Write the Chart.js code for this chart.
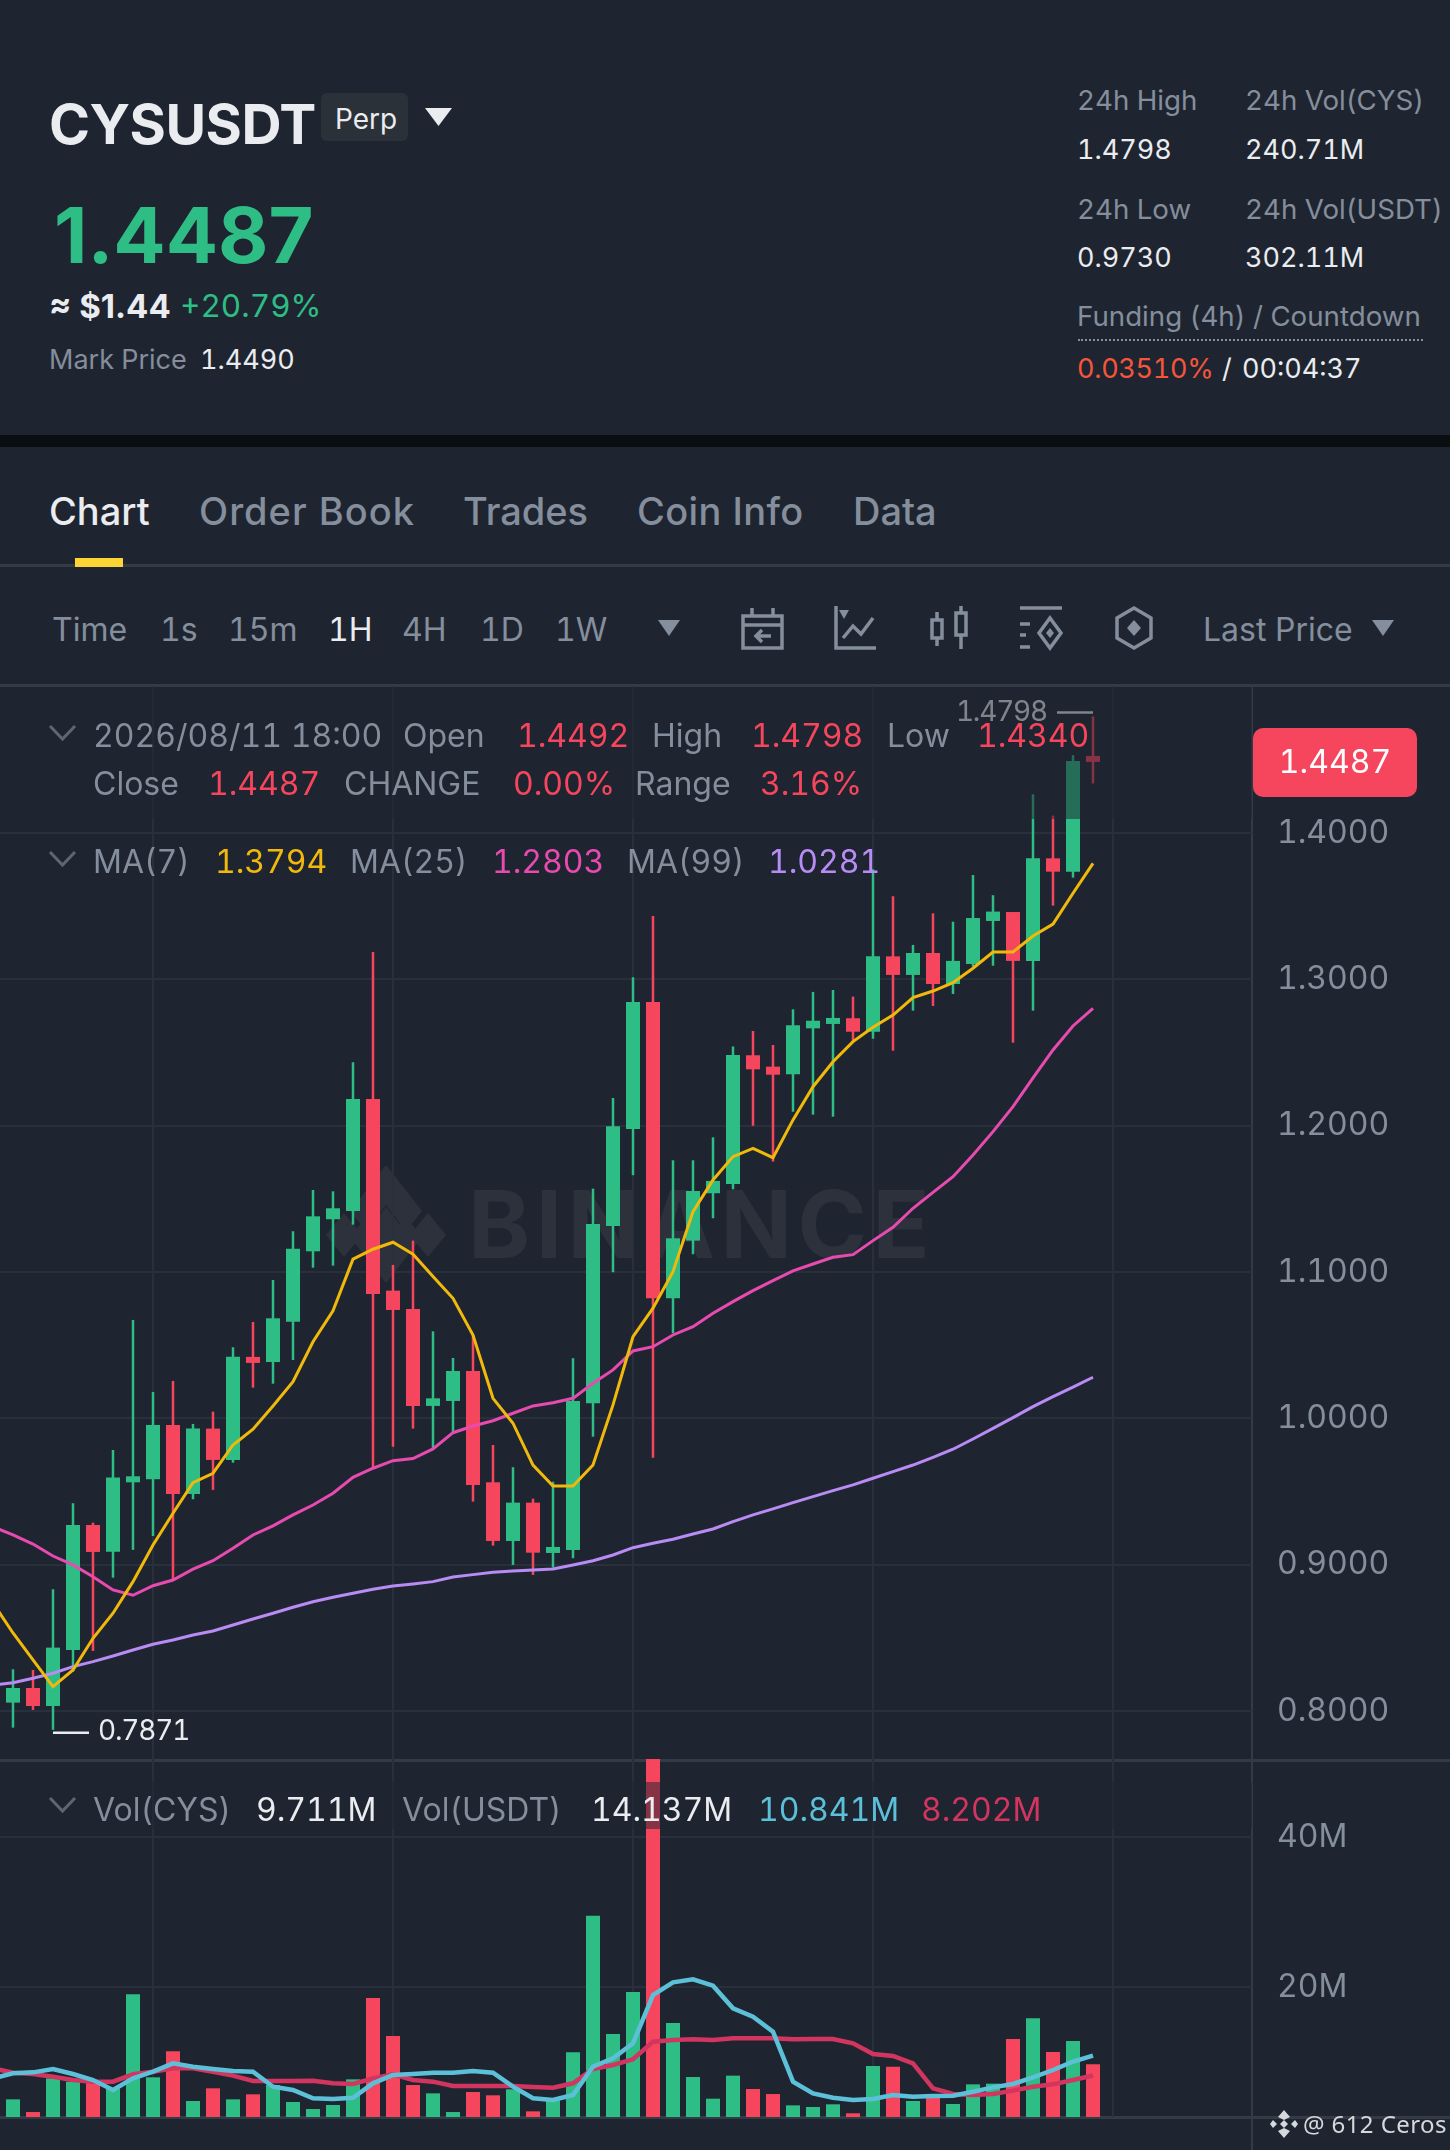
<!DOCTYPE html>
<html>
<head>
<meta charset="utf-8">
<title>CYSUSDT</title>
<script src="https://cdn.jsdelivr.net/npm/chart.js@4/dist/chart.umd.min.js"></script>
<style>
    html, body { margin: 0; padding: 0; background: #1f2530; }
    body { position: relative; width: 1450px; height: 2150px; overflow: hidden; font-family: Inter, sans-serif; font-variant-numeric: tabular-nums; color: #848e9c; }
    .t { position: absolute; white-space: nowrap; line-height: 1; transform: translateY(-50%); }
    .box { position: absolute; }
    .white { color: #eaecef; }
    .green { color: #2ebd85; }
    .red { color: #f6465d; }
    .hdr { font-size: 27.7px; }
    .hdr.white { font-size: 27px; }
    .tab { font-size: 38px; font-weight: 500; }
    .tool { font-size: 32px; }
    .leg { font-size: 32px; }
    svg { position: absolute; overflow: visible; }
    canvas { position: absolute; left: 0; }
</style>
</head>
<body>

<!-- header -->
<div class="t white" style="left:49px;top:124px;font-size:55.5px;font-weight:700;letter-spacing:-.5px">CYSUSDT</div>
<div class="box" style="left:321px;top:93px;width:87px;height:48px;background:#2b3139;border-radius:6px"></div>
<div class="t white" style="left:335px;top:119px;font-size:28px">Perp</div>
<svg style="left:425px;top:108px" width="28" height="18"><path d="M0 0H27L13.5 18Z" fill="#eaecef"/></svg>
<div class="t green" style="left:54px;top:236px;font-size:77.5px;font-weight:700;font-variant-numeric:normal">1.4487</div>
<div class="t white" style="left:49px;top:306px;font-size:33px;font-weight:700;font-variant-numeric:normal">≈ $1.44</div>
<div class="t green" style="left:180px;top:306px;font-size:31.5px">+20.79%</div>
<div class="t hdr" style="left:49px;top:359px;font-size:27px">Mark Price</div>
<div class="t hdr white" style="left:200px;top:359px">1.4490</div>

<div class="t hdr" style="left:1077px;top:101px">24h High</div>
<div class="t hdr" style="left:1245px;top:101px">24h Vol(CYS)</div>
<div class="t hdr white" style="left:1077px;top:149px">1.4798</div>
<div class="t hdr white" style="left:1245px;top:149px">240.71M</div>
<div class="t hdr" style="left:1077px;top:210px">24h Low</div>
<div class="t hdr" style="left:1245px;top:210px">24h Vol(USDT)</div>
<div class="t hdr white" style="left:1077px;top:257px">0.9730</div>
<div class="t hdr white" style="left:1245px;top:257px">302.11M</div>
<div class="t hdr" style="left:1077px;top:317px">Funding (4h) / Countdown</div>
<div class="box" style="left:1078px;top:339px;width:345px;border-top:2px dotted #848e9c"></div>
<div class="t hdr" style="left:1077px;top:368px;font-size:27px;letter-spacing:-.3px;color:#f6553c">0.03510%</div>
<div class="t hdr white" style="left:1222px;top:368px">/</div>
<div class="t hdr white" style="left:1242px;top:368px">00:04:37</div>

<div class="box" style="left:0;top:435px;width:1450px;height:12px;background:#0b0e11"></div>

<!-- tabs -->
<div class="t tab white" style="left:49px;top:511px">Chart</div>
<div class="t tab" style="left:199px;top:511px;letter-spacing:1px">Order Book</div>
<div class="t tab" style="left:463px;top:511px">Trades</div>
<div class="t tab" style="left:637px;top:511px;letter-spacing:.4px">Coin Info</div>
<div class="t tab" style="left:853px;top:511px">Data</div>
<div class="box" style="left:0;top:564px;width:1450px;height:3px;background:#333b47"></div>
<div class="box" style="left:75px;top:558px;width:48px;height:9px;background:#fcd535"></div>

<!-- toolbar -->
<div class="t tool" style="left:52px;top:630px">Time</div>
<div class="t tool" style="left:160px;top:630px">1s</div>
<div class="t tool" style="left:228px;top:630px">15m</div>
<div class="t tool white" style="left:328px;top:630px">1H</div>
<div class="t tool" style="left:402px;top:630px">4H</div>
<div class="t tool" style="left:480px;top:630px">1D</div>
<div class="t tool" style="left:555px;top:630px">1W</div>
<svg style="left:658px;top:620px" width="22" height="16"><path d="M0 0H22L11 16Z" fill="#848e9c"/></svg>
<svg style="left:741px;top:606px" width="44" height="44" fill="none" stroke="#848e9c" stroke-width="3.5">
    <path d="M2 10H41V42H2ZM2 19H41M11 2V10M32 2V10M30 30H15M21 24L15 30L21 36"/>
</svg>
<svg style="left:834px;top:606px" width="44" height="44" fill="none" stroke="#848e9c" stroke-width="3.5">
    <path d="M2 0V42H42M9 32L19 20L27 28L39 12"/><path d="M5 4H15L10 13Z" fill="#848e9c" stroke="none"/>
</svg>
<svg style="left:930px;top:606px" width="40" height="44" fill="none" stroke="#848e9c" stroke-width="3.5">
    <path d="M2 14H12V32H2ZM26 7H36V29H26ZM7 6V14M7 32V40M31 0V7M31 29V43"/>
</svg>
<svg style="left:1020px;top:606px" width="44" height="44" fill="none" stroke="#848e9c" stroke-width="3.5">
    <path d="M0 2H42M0 18H10M0 29H6M0 41H10M30 12L41 27L30 42L19 27Z"/><path d="M30 22L34 27L30 32L26 27Z" fill="#848e9c" stroke="none"/>
</svg>
<svg style="left:1115px;top:606px" width="40" height="44" fill="none" stroke="#848e9c" stroke-width="3.5">
    <path d="M19 2L36 12V32L19 42L2 32V12Z"/><path d="M19 14L26 22L19 30L12 22Z" fill="#848e9c" stroke="none"/>
</svg>
<div class="t tool" style="left:1203px;top:630px">Last Price</div>
<svg style="left:1372px;top:620px" width="22" height="16"><path d="M0 0H22L11 16Z" fill="#848e9c"/></svg>

<!-- watermark under the chart -->
<svg style="left:326px;top:1165px" width="120" height="118" fill="#2c313c">
    <path d="M60 0L96 46L80 66L60 40L40 66L24 46Z"/>
    <path d="M60 42L76 62L60 84L44 62Z"/>
    <path d="M18 48L36 70L18 92L0 70Z"/>
    <path d="M102 48L120 70L102 92L84 70Z"/>
    <path d="M60 118L24 72L40 52L60 78L80 52L96 72Z"/>
</svg>
<div class="t" style="left:468px;top:1224px;font-size:94px;font-weight:700;color:#2c313c;letter-spacing:5.5px">BINANCE</div>

<!-- pane lines -->
<div class="box" style="left:0;top:684px;width:1450px;height:3px;background:#333b47"></div>
<div class="box" style="left:0;top:1759px;width:1450px;height:3px;background:#333b47"></div>
<div class="box" style="left:0;top:2116px;width:1450px;height:3px;background:#333b47"></div>
<div class="box" style="left:1251px;top:686px;width:2px;height:1464px;background:#333b47"></div>

<canvas id="volChart" width="1450" height="360" style="top:1757px"></canvas>
<canvas id="priceChart" width="1450" height="1075" style="top:686px"></canvas>

<!-- legend strips dim what is behind them -->
<div class="box" style="left:0;top:687px;width:1252px;height:132px;background:rgba(31,37,48,.52)"></div>
<div class="box" style="left:0;top:1782px;width:1252px;height:47px;background:rgba(31,37,48,.52)"></div>

<svg style="left:49px;top:725px" width="28" height="15" fill="none" stroke="#5e6673" stroke-width="3"><path d="M1 1L13.5 14L26 1"/></svg>
<div class="t leg" style="left:93px;top:735.5px">2026/08/11 18:00</div>
<div class="t leg" style="left:403px;top:735.5px">Open</div>
<div class="t leg red" style="left:517px;top:735.5px">1.4492</div>
<div class="t leg" style="left:652px;top:735.5px">High</div>
<div class="t leg red" style="left:751px;top:735.5px">1.4798</div>
<div class="t leg" style="left:887px;top:735.5px">Low</div>
<div class="t leg red" style="left:977px;top:735.5px">1.4340</div>
<div class="t leg" style="left:93px;top:783.5px">Close</div>
<div class="t leg red" style="left:208px;top:783.5px">1.4487</div>
<div class="t leg" style="left:344px;top:783.5px">CHANGE</div>
<div class="t leg red" style="left:513px;top:783.5px">0.00%</div>
<div class="t leg" style="left:635px;top:783.5px">Range</div>
<div class="t leg red" style="left:760px;top:783.5px">3.16%</div>

<svg style="left:49px;top:851px" width="28" height="15" fill="none" stroke="#5e6673" stroke-width="3"><path d="M1 1L13.5 14L26 1"/></svg>
<div class="t leg" style="left:93px;top:861.5px">MA(7)</div>
<div class="t leg" style="left:215px;top:861.5px;color:#f0b90b">1.3794</div>
<div class="t leg" style="left:350px;top:861.5px">MA(25)</div>
<div class="t leg" style="left:492px;top:861.5px;color:#e84bb0">1.2803</div>
<div class="t leg" style="left:627px;top:861.5px">MA(99)</div>
<div class="t leg" style="left:768px;top:861.5px;color:#b88bf5">1.0281</div>

<svg style="left:49px;top:1797px" width="28" height="15" fill="none" stroke="#5e6673" stroke-width="3"><path d="M1 1L13.5 14L26 1"/></svg>
<div class="t leg" style="left:93px;top:1809.5px">Vol(CYS)</div>
<div class="t leg white" style="left:256px;top:1809.5px">9.711M</div>
<div class="t leg" style="left:402px;top:1809.5px">Vol(USDT)</div>
<div class="t leg white" style="left:591px;top:1809.5px">14.137M</div>
<div class="t leg" style="left:758px;top:1809.5px;color:#5cc0d8">10.841M</div>
<div class="t leg" style="left:921px;top:1809.5px;color:#d2355f">8.202M</div>

<!-- last price tag -->
<div class="box" style="left:1253px;top:728px;width:164px;height:69px;background:#f6465d;border-radius:10px"></div>
<div class="t" style="left:1253px;width:164px;top:762px;text-align:center;font-size:32px;color:#fff">1.4487</div>

<!-- credit -->
<svg style="left:1270px;top:2110px" width="28" height="28" fill="#d5d8dc">
    <path d="M14 0L20 7L14 10L8 7ZM14 10L18 14L14 18L10 14ZM3 10L7 14L3 18L0 14ZM25 10L28 14L25 18L21 14ZM14 28L8 21L14 18L20 21Z"/>
</svg>
<div class="t" style="left:1303px;top:2124px;font-size:24px;color:#d5d8dc;letter-spacing:.4px;font-family:'Noto Sans',sans-serif">@ 612 Ceros</div>

<script>
// one hourly candle per entry, oldest first
const opens = [0.8057, 0.8157, 0.8034, 0.8417, 0.9271, 0.9089, 0.9563, 0.9584, 0.9955, 0.9483, 0.9930, 0.9716, 1.0418, 1.0385, 1.0661, 1.1142, 1.1361, 1.1418, 1.2183, 1.0873, 1.0748, 1.0085, 1.0119, 1.0324, 0.9563, 0.9162, 0.9424, 0.9080, 0.9100, 1.0103, 1.1315, 1.1978, 1.2846, 1.0821, 1.1215, 1.1539, 1.1602, 1.2482, 1.2404, 1.2352, 1.2666, 1.2696, 1.2735, 1.2643, 1.3158, 1.3031, 1.3181, 1.2969, 1.3106, 1.3400, 1.3461, 1.3127, 1.3828, 1.3737, 1.4492];
const closes = [0.8157, 0.8034, 0.8433, 0.9271, 0.9087, 0.9595, 0.9604, 0.9955, 0.9483, 0.9930, 0.9716, 1.0422, 1.0379, 1.0684, 1.1160, 1.1381, 1.1436, 1.2183, 1.0850, 1.0741, 1.0085, 1.0137, 1.0324, 0.9545, 0.9162, 0.9424, 0.9082, 0.9121, 1.0119, 1.1329, 1.1996, 1.2846, 1.0821, 1.1231, 1.1554, 1.1623, 1.2484, 1.2386, 1.2349, 1.2687, 1.2718, 1.2735, 1.2643, 1.3158, 1.3031, 1.3181, 1.2969, 1.3127, 1.3420, 1.3464, 1.3127, 1.3828, 1.3737, 1.4494, 1.4487];
const highs = [0.8285, 0.8280, 0.8832, 0.9420, 0.9287, 0.9784, 1.0673, 1.0180, 1.0256, 0.9962, 1.0046, 1.0486, 1.0659, 1.0946, 1.1279, 1.1561, 1.1552, 1.2434, 1.3188, 1.1049, 1.1215, 1.0595, 1.0413, 1.0570, 0.9818, 0.9666, 0.9451, 0.9567, 1.0411, 1.1570, 1.2190, 1.3015, 1.3434, 1.1764, 1.1764, 1.1921, 1.2542, 1.2648, 1.2552, 1.2796, 1.2915, 1.2928, 1.2883, 1.3753, 1.3569, 1.3236, 1.3452, 1.3395, 1.3714, 1.3576, 1.3461, 1.4266, 1.4120, 1.4533, 1.4798];
const lows = [0.7886, 0.8007, 0.7871, 0.8269, 0.8410, 0.8911, 0.9101, 0.9196, 0.8895, 0.9447, 0.9511, 0.9697, 1.0210, 1.0237, 1.0399, 1.1030, 1.1044, 1.1324, 0.9661, 0.9806, 0.9930, 0.9796, 0.9898, 0.9431, 0.9130, 0.8998, 0.8930, 0.8980, 0.9044, 0.9875, 1.0999, 1.1662, 0.9730, 1.0582, 1.1122, 1.1368, 1.1566, 1.2000, 1.1755, 1.2096, 1.2076, 1.2062, 1.2566, 1.2595, 1.2513, 1.2787, 1.2819, 1.2901, 1.3088, 1.3094, 1.2568, 1.2787, 1.3505, 1.3696, 1.4340];
const volumes = [5.02, 3.33, 7.82, 7.38, 7.38, 6.49, 19.02, 7.96, 11.42, 4.80, 6.49, 5.02, 5.69, 6.93, 4.67, 3.73, 4.27, 7.69, 18.53, 13.47, 6.93, 5.82, 3.33, 6.00, 5.56, 6.36, 3.42, 4.93, 11.29, 29.51, 13.73, 19.33, 50.40, 15.20, 8.00, 5.11, 8.18, 6.40, 5.73, 4.22, 4.00, 4.36, 3.16, 9.47, 9.38, 4.80, 5.38, 4.40, 7.02, 7.11, 13.07, 15.82, 11.33, 12.80, 9.711];

// averages hold one extra value in front, for the stretch that runs off the left edge
const ma7 = [0.8738, 0.8533, 0.8349, 0.8166, 0.8280, 0.8497, 0.8668, 0.8884, 0.9135, 0.9351, 0.9560, 0.9625, 0.9818, 0.9926, 1.0085, 1.0251, 1.0524, 1.0736, 1.1088, 1.1156, 1.1204, 1.1122, 1.0969, 1.0821, 1.0570, 1.0137, 0.9967, 0.9681, 0.9538, 0.9538, 0.9681, 1.0092, 1.0558, 1.0753, 1.1003, 1.1413, 1.1630, 1.1789, 1.1846, 1.1782, 1.2040, 1.2267, 1.2438, 1.2575, 1.2673, 1.2757, 1.2876, 1.2921, 1.2978, 1.3077, 1.3188, 1.3188, 1.3297, 1.3379, 1.3589, 1.3794];
const ma25 = [0.9258, 0.9203, 0.9141, 0.9059, 0.8998, 0.8918, 0.8827, 0.8791, 0.8856, 0.8895, 0.8969, 0.9027, 0.9112, 0.9203, 0.9265, 0.9340, 0.9408, 0.9488, 0.9597, 0.9659, 0.9711, 0.9725, 0.9791, 0.9902, 0.9948, 0.9984, 1.0035, 1.0085, 1.0107, 1.0137, 1.0240, 1.0331, 1.0461, 1.0490, 1.0570, 1.0627, 1.0718, 1.0798, 1.0873, 1.0941, 1.1008, 1.1055, 1.1101, 1.1119, 1.1215, 1.1306, 1.1436, 1.1545, 1.1652, 1.1800, 1.1960, 1.2131, 1.2327, 1.2518, 1.2682, 1.2803];
const ma99 = [0.8178, 0.8193, 0.8224, 0.8258, 0.8303, 0.8337, 0.8376, 0.8417, 0.8456, 0.8485, 0.8519, 0.8547, 0.8588, 0.8629, 0.8668, 0.8709, 0.8747, 0.8777, 0.8805, 0.8832, 0.8854, 0.8868, 0.8884, 0.8916, 0.8932, 0.8948, 0.8957, 0.8964, 0.8971, 0.8998, 0.9027, 0.9066, 0.9116, 0.9146, 0.9174, 0.9210, 0.9244, 0.9294, 0.9340, 0.9381, 0.9424, 0.9465, 0.9506, 0.9545, 0.9591, 0.9636, 0.9681, 0.9734, 0.9789, 0.9859, 0.9932, 1.0005, 1.0080, 1.0148, 1.0213, 1.0281];
const volMaFast = [7.82, 8.49, 8.62, 9.07, 8.40, 7.60, 6.27, 7.82, 8.71, 9.82, 9.38, 9.07, 8.80, 8.71, 6.71, 6.27, 5.16, 5.07, 5.24, 7.16, 8.27, 8.40, 8.58, 8.58, 8.80, 8.58, 6.71, 5.16, 4.93, 5.60, 9.38, 10.49, 12.49, 18.93, 20.62, 21.02, 20.18, 17.16, 16.04, 14.04, 7.38, 5.82, 5.24, 4.93, 5.07, 5.60, 5.38, 5.47, 5.51, 6.04, 6.62, 7.07, 7.96, 8.93, 10.04, 10.841];
const volMaSlow = [9.16, 8.58, 8.40, 8.04, 7.60, 7.38, 7.38, 8.36, 8.71, 9.16, 9.16, 8.71, 8.18, 7.47, 7.47, 7.47, 7.51, 7.16, 7.07, 7.82, 8.36, 7.60, 7.38, 6.80, 6.80, 6.80, 6.80, 6.67, 6.58, 7.16, 9.07, 9.60, 10.36, 12.71, 12.93, 13.02, 12.93, 13.16, 13.16, 13.16, 13.02, 13.07, 13.07, 12.49, 11.07, 10.80, 9.82, 6.49, 5.73, 5.60, 5.73, 6.18, 6.71, 7.02, 7.60, 8.202];

const priceTicks = [0.8, 0.9, 1.0, 1.1, 1.2, 1.3, 1.4];
const volTicks = [20, 40];
const timeGrid = [7, 19, 31, 43, 55];
const lowMark = { index: 2, price: 0.7871 };
const highMark = { index: 54, price: 1.4798 };

const UP = '#2ebd85';
const DOWN = '#f6465d';
const GRID = '#2a303b';
const AXIS_TEXT = '#848e9c';
const AXIS_FONT = { family: 'Inter', size: 32 };

const candleColors = closes.map((c, i) => c >= opens[i] ? UP : DOWN);
const asLine = arr => arr.map((v, i) => ({ x: i - 1, y: v }));

function timeAxis() {
    return {
        type: 'linear',
        min: -0.65,
        max: 61.95,
        offset: false,
        ticks: { display: false },
        border: { display: false },
        grid: { color: GRID, lineWidth: 2, drawTicks: false, offset: false },
        afterBuildTicks: scale => { scale.ticks = timeGrid.map(v => ({ value: v })); },
        afterFit: scale => { scale.height = 0; }
    };
}

function valueAxis(min, max, tickValues, format) {
    return {
        position: 'right',
        min: min,
        max: max,
        border: { display: false },
        grid: { color: GRID, lineWidth: 2, drawTicks: false },
        ticks: {
            color: AXIS_TEXT,
            font: AXIS_FONT,
            padding: 25,
            crossAlign: 'near',
            callback: format
        },
        afterBuildTicks: scale => { scale.ticks = tickValues.map(v => ({ value: v })); },
        afterFit: scale => {
            scale.width = 198;
            scale.paddingTop = 0;
            scale.paddingBottom = 0;
        }
    };
}

function lineSet(values, color, width) {
    return {
        type: 'line',
        data: asLine(values),
        borderColor: color,
        borderWidth: width,
        pointRadius: 0,
        tension: 0,
        order: 0
    };
}

const baseOptions = {
    responsive: false,
    animation: false,
    devicePixelRatio: 1,
    layout: { padding: 0, autoPadding: false },
    plugins: { legend: { display: false }, tooltip: { enabled: false } }
};

// the two small high / low flags beside their candles
const extremeMarks = {
    id: 'extremeMarks',
    afterDatasetsDraw(chart) {
        const { ctx, scales: { x, y } } = chart;
        ctx.save();
        ctx.strokeStyle = '#eaecef';
        ctx.fillStyle = '#eaecef';
        ctx.lineWidth = 2.5;
        ctx.font = '28px Inter';
        ctx.letterSpacing = '-1.2px';
        ctx.textBaseline = 'middle';

        let px = x.getPixelForValue(lowMark.index);
        let py = y.getPixelForValue(lowMark.price) + 3;
        ctx.beginPath();
        ctx.moveTo(px, py);
        ctx.lineTo(px + 36, py);
        ctx.stroke();
        ctx.textAlign = 'left';
        ctx.fillText(lowMark.price.toFixed(4), px + 45, py - 1);

        px = x.getPixelForValue(highMark.index);
        py = y.getPixelForValue(highMark.price) - 4;
        ctx.beginPath();
        ctx.moveTo(px, py);
        ctx.lineTo(px - 36, py);
        ctx.stroke();
        ctx.textAlign = 'right';
        ctx.fillText(highMark.price.toFixed(4), px - 46, py);
        ctx.restore();
    }
};

new Chart(document.getElementById('priceChart'), {
    type: 'bar',
    plugins: [extremeMarks],
    data: {
        datasets: [
            lineSet(ma7, '#f0b90b', 3),
            lineSet(ma25, '#e84bb0', 3),
            lineSet(ma99, '#b88bf5', 3),
            {
                // bodies
                data: opens.map((o, i) => ({ x: i, y: [o, closes[i]] })),
                backgroundColor: candleColors,
                barThickness: 14,
                minBarLength: 6,
                inflateAmount: 0,
                grouped: false,
                order: 1
            },
            {
                // wicks
                data: lows.map((l, i) => ({ x: i, y: [l, highs[i]] })),
                backgroundColor: candleColors,
                barThickness: 2.5,
                inflateAmount: 0,
                grouped: false,
                order: 2
            }
        ]
    },
    options: {
        ...baseOptions,
        scales: {
            x: timeAxis(),
            y: valueAxis(0.7658, 1.5006, priceTicks, v => v.toFixed(4))
        }
    }
});

new Chart(document.getElementById('volChart'), {
    type: 'bar',
    data: {
        datasets: [
            lineSet(volMaFast, '#5cc0d8', 4.5),
            lineSet(volMaSlow, '#d2355f', 4.5),
            {
                data: volumes.map((v, i) => ({ x: i, y: v })),
                backgroundColor: candleColors,
                barThickness: 14,
                inflateAmount: 0,
                grouped: false,
                order: 1
            }
        ]
    },
    options: {
        ...baseOptions,
        scales: {
            x: timeAxis(),
            y: valueAxis(2.667, 50.667, volTicks, v => v + 'M')
        }
    }
});
</script>
</body>
</html>
